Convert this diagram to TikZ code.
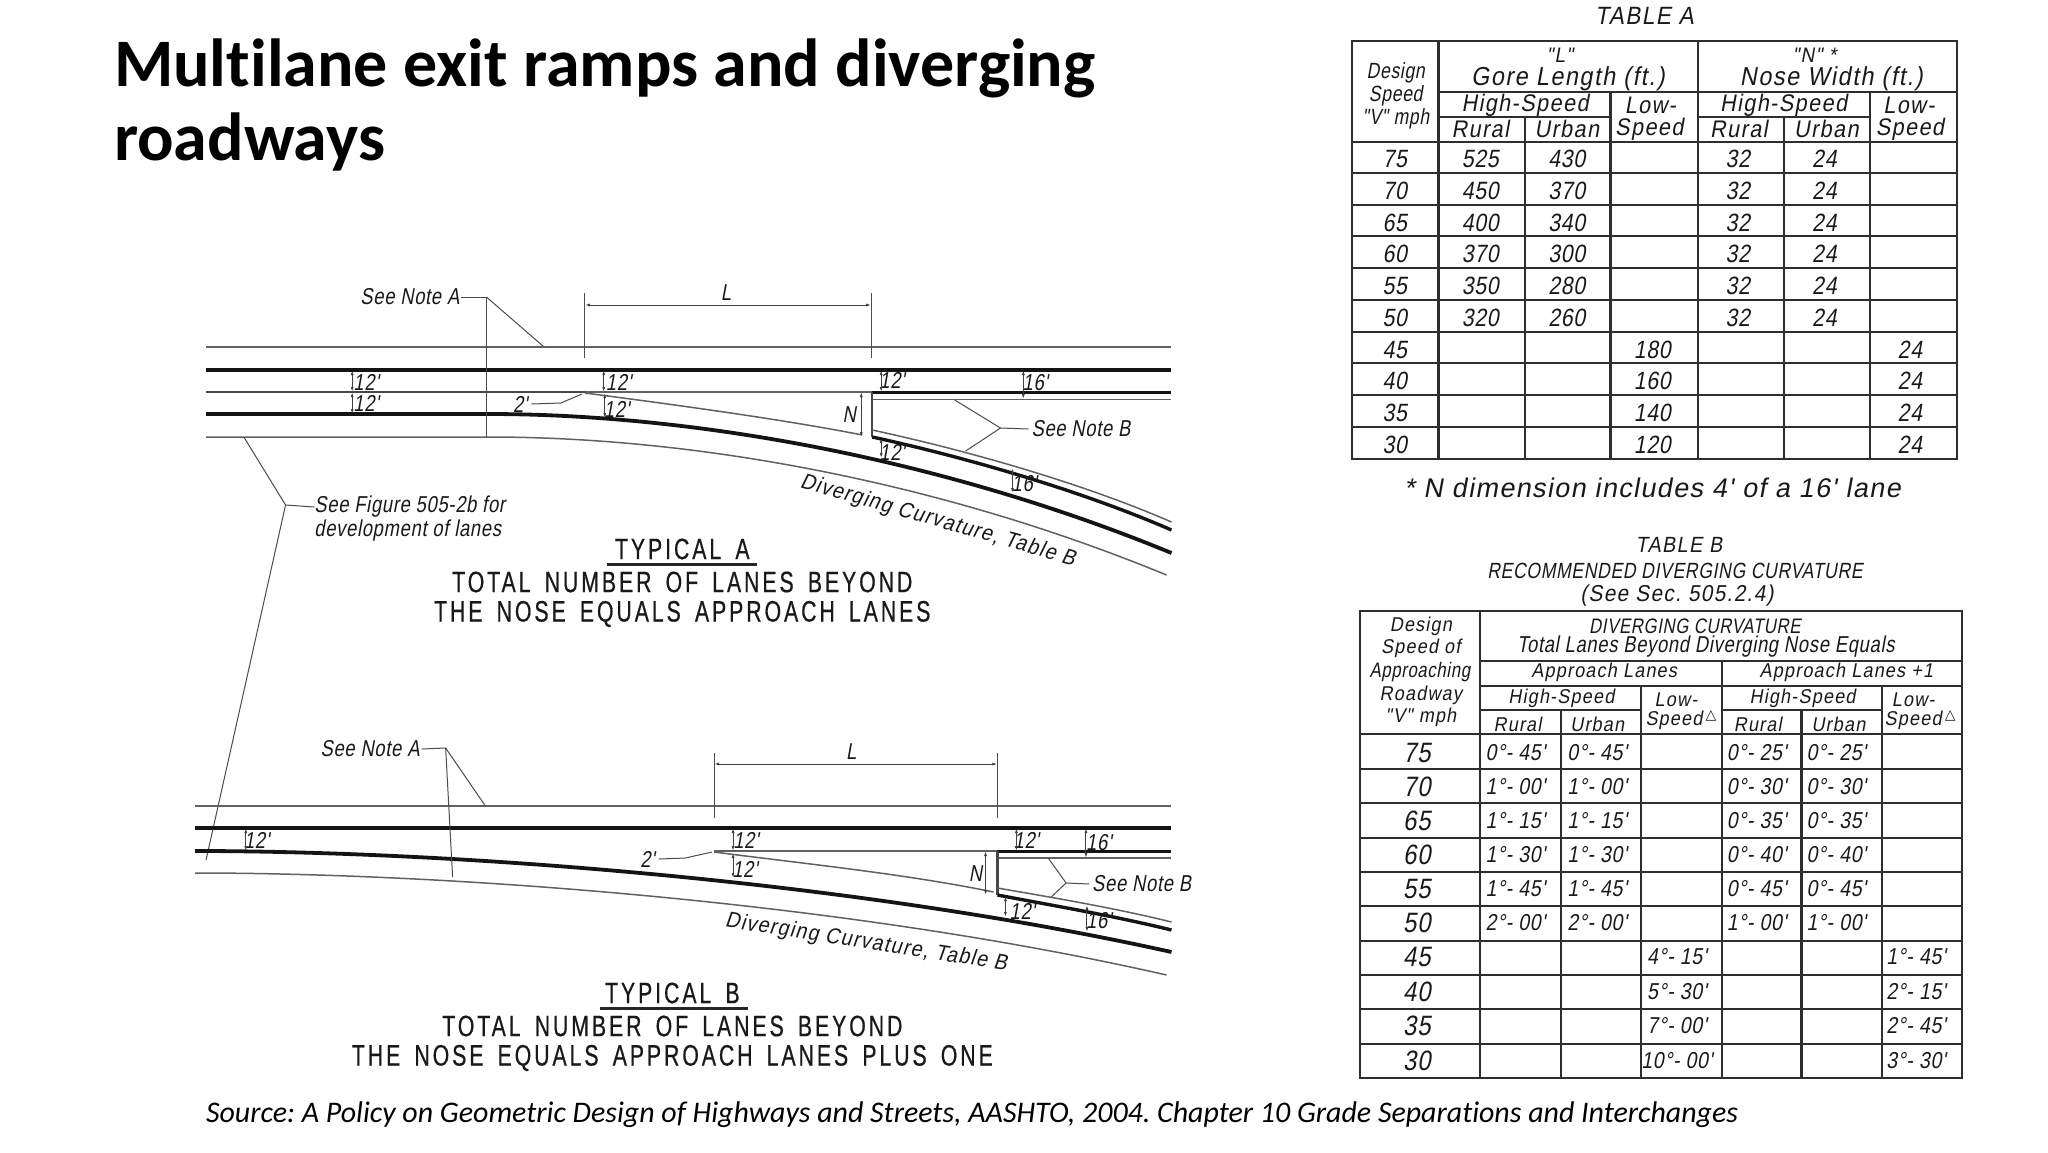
\documentclass[tikz,border=0pt]{standalone}
\usepackage{fontspec}
\usetikzlibrary{arrows.meta}
\setmainfont[Ligatures=NoCommon]{Carlito}
\newfontfamily\cadfont[FakeSlant=0.18,FakeStretch=0.8,LetterSpace=3]{Liberation Sans}
\newfontfamily\cadmid[FakeSlant=0.18,FakeStretch=0.85,LetterSpace=3]{Liberation Sans}
\newfontfamily\cadwide[FakeSlant=0.18,FakeStretch=0.9,LetterSpace=6]{Liberation Sans}
\newfontfamily\cadxwide[FakeSlant=0.18,FakeStretch=1.0,LetterSpace=5]{Liberation Sans}
\newfontfamily\capsfont[FakeStretch=0.72,LetterSpace=10,WordSpace=1.6,FakeBold=0.5]{Liberation Sans}
\newfontfamily\symfont{DejaVu Sans}
\newcommand\cadsz[1]{\fontsize{#1}{#1}\selectfont\cadfont}
\newcommand\midsz[1]{\fontsize{#1}{#1}\selectfont\cadmid}
\newcommand\widesz[1]{\fontsize{#1}{#1}\selectfont\cadwide}
\newcommand\capsz[1]{\fontsize{#1}{#1}\selectfont\capsfont}
\newcommand\tri{{\symfont\bfseries\fontsize{14}{14}\selectfont\raisebox{6pt}{△}}}
\tikzset{
  x=1pt,y=-1pt,
  every node/.style={inner sep=0pt,outer sep=0pt,text=black!90},
  thinroad/.style={line width=1.5pt,draw=black!62},
  thickroad/.style={line width=3.8pt,draw=black!92},
  midroad/.style={line width=2pt,draw=black!72},
  leader/.style={line width=1pt,draw=black!70},
  dimen/.style={line width=1pt,draw=black!75,{Latex[length=5pt,width=3pt]}-{Latex[length=5pt,width=3pt]}},
  grid/.style={line width=2.2pt,draw=black!82,line cap=rect},
  lab/.style={font=\cadsz{23}},
  divlab/.style={font=\widesz{22}},
  lanelab/.style={font=\cadsz{23}},
  cellA/.style={font=\midsz{25}},
  headA/.style={font=\widesz{24}},
  speedB/.style={font=\midsz{28}},
  cellB/.style={font=\midsz{23}},
  headB/.style={font=\widesz{20}},
  titleB/.style={font=\cadsz{22}},
  capslab/.style={font=\capsz{29.5}},
}
\newcommand\ifcell[4]{\if\relax\detokenize{#4}\relax\else\node[#1] (#2) at #3 {#4};\fi}
\newcommand\rowA[8]{%
  \node[cellA] (As#1) at (1395,#1) {#2};
  \ifcell{cellA}{Aa#1}{(1481,#1)}{#3}\ifcell{cellA}{Ab#1}{(1568,#1)}{#4}\ifcell{cellA}{Ac#1}{(1654,#1)}{#5}%
  \ifcell{cellA}{Ad#1}{(1740,#1)}{#6}\ifcell{cellA}{Ae#1}{(1827,#1)}{#7}\ifcell{cellA}{Af#1}{(1913,#1)}{#8}}
\newcommand\rowB[8]{%
  \node[speedB] (Bs#1) at (1417,#1) {#2};
  \ifcell{cellB}{Ba#1}{(1516,#1)}{#3}\ifcell{cellB}{Bb#1}{(1598,#1)}{#4}\ifcell{cellB}{Bc#1}{(1678,#1)}{#5}%
  \ifcell{cellB}{Bd#1}{(1758,#1)}{#6}\ifcell{cellB}{Be#1}{(1838,#1)}{#7}\ifcell{cellB}{Bf#1}{(1918,#1)}{#8}}
\begin{document}
\frenchspacing
\begin{tikzpicture}
\useasboundingbox[fill=white] (0,0) rectangle (2048,1152);
% titles
\node[anchor=base west,font=\fontsize{68}{68}\selectfont\bfseries,text=black] (title1) at (114,86) {Multilane exit ramps and diverging};
\node[anchor=base west,font=\fontsize{68}{68}\selectfont\bfseries,text=black] (title2) at (114,160) {roadways};
\node[anchor=base west,font=\fontsize{29.93}{30}\selectfont\itshape,text=black] (source) at (206,1122) {Source: A Policy on Geometric Design of Highways and Streets, AASHTO, 2004. Chapter 10 Grade Separations and Interchanges};

\begin{scope}[x=0.9943pt,xshift=1.2pt]
% ---------- TYPICAL A ----------
\draw[thinroad] (206,347) -- (1177,347);
\draw[thickroad] (206,370) -- (1177,370);
\draw[midroad] (206,392) -- (587,392);
\draw[thinroad] (587,392) -- (876,392);
\draw[thickroad,line width=3pt] (876,392) -- (1177,392);
\draw[thinroad] (876,399.5) -- (1177,399.5);
\draw[thickroad] (206,414) -- (490,414) .. controls (700,414) and (950,460) .. (1177,553);
\draw[thinroad] (206,437) -- (490,437) .. controls (700,437) and (945,482) .. (1172,575);
\draw[thinroad] (587,393) .. controls (680,405) and (790,420) .. (866,435);
\draw[midroad,line width=2.4pt] (876,392) -- (876,437);
\draw[thickroad,line width=3.4pt] (876,437) .. controls (960,455) and (1080,488) .. (1177,530);
\draw[thinroad] (876,430) .. controls (960,448) and (1080,480) .. (1177,522);
% L dimension
\coordinate (aL1) at (587,293); \coordinate (aL1b) at (587,358);
\coordinate (aL2) at (875,293); \coordinate (aL2b) at (875,358);
\draw[leader] (aL1) -- (aL1b); \draw[leader] (aL2) -- (aL2b);
\draw[dimen] (aL1 |- 0,305) -- (aL2 |- 0,305);
\node[lab] (aLlab) at (729,293) {L};
% note A
\node[lab] (aNoteA) at (411,297) {See Note A};
\coordinate (aNA) at (488,297);
\draw[leader] (aNoteA.east) ++(2,0) -- (aNA) -- (488,437);
\draw[leader] (aNA) -- (546,347);
% lane labels
\foreach \nm/\lx/\ly/\t/\ax/\ya/\yb in {
 a1/367/382/12'/353/370/392, a2/367/403/12'/353/392/414, a3/621/382/12'/606/370/392, a4/619/409/12'/607/393/418,
 a5/896/380/12'/885/370/392, a6/1040/383/16'/1028/370/399, a7/896/452/12'/885/438/458, a8/1029/484/16'/1017/468/493}{
  \node[lanelab] (\nm) at (\lx,\ly) {\t};
  \draw[dimen] (\ax,\ya) -- (\ax,\yb);
}
\node[lanelab] (a2ft) at (522,404) {2'};
\draw[leader] (a2ft.east) ++(4,0) -- (563,403) -- (584,394);
\node[lanelab] (aN) at (853,415) {N};
\draw[dimen] (865,392) -- (865,437);
\coordinate (aNB) at (1005,428);
\node[lab] (aNoteB) at (1086,429) {See Note B};
\draw[leader] (aNoteB.west) ++(-3,0) -- (aNB) -- (959,400);
\draw[leader] (aNB) -- (970,451);
% figure leader
\coordinate (aFig) at (286,505);
\draw[leader] (244,437) -- (aFig) -- (206,860);
\node[lab,anchor=west] (aFig1) at (315,507) {See Figure 505-2b for};
\node[lab,anchor=west] (aFig2) at (315,531) {development of lanes};
\draw[leader] (aFig) -- (aFig1.west);
\node[divlab,rotate=-16] (aDiv) at (942,521) {Diverging Curvature, Table B};
\node[capslab] (aTyp) at (685,549) {TYPICAL A};
\draw[line width=3pt,draw=black!85] (609,564) -- (760,564);
\node[capslab] (aT1) at (685,582) {TOTAL NUMBER OF LANES BEYOND};
\node[capslab] (aT2) at (685,614) {THE NOSE EQUALS APPROACH LANES};

% ---------- TYPICAL B ----------
\draw[thinroad] (195,806) -- (1177,806);
\draw[thickroad] (195,828) -- (1177,828);
\draw[thickroad] (195,851) .. controls (450,851) and (850,880) .. (1177,952);
\draw[thinroad] (195,873) .. controls (450,873) and (850,902) .. (1172,975);
\draw[thinroad] (717,851) -- (1002,851);
\draw[thickroad,line width=3pt] (1002,851) -- (1177,851);
\draw[thinroad] (1002,858) -- (1177,858);
\draw[thinroad] (717,852) .. controls (810,864) and (910,874) .. (998,892);
\draw[midroad,line width=2.4pt] (1002,851) -- (1002,895);
\draw[thickroad,line width=3.4pt] (1002,895) .. controls (1060,906) and (1120,916) .. (1177,930);
\draw[thinroad] (1002,888) .. controls (1060,898) and (1120,908) .. (1177,922);
% L
\coordinate (bL1) at (717,753); \coordinate (bL1b) at (717,818);
\coordinate (bL2) at (1002,753); \coordinate (bL2b) at (1002,818);
\draw[leader] (bL1) -- (bL1b); \draw[leader] (bL2) -- (bL2b);
\draw[dimen] (bL1 |- 0,764) -- (bL2 |- 0,764);
\node[lab] (bLlab) at (855,752) {L};
% note A
\node[lab] (bNoteA) at (371,749) {See Note A};
\coordinate (bNA) at (447,748);
\draw[leader] (bNoteA.east) ++(2,0) -- (bNA) -- (454,877);
\draw[leader] (bNA) -- (487,806);
% lane labels
\foreach \nm/\lx/\ly/\t/\ax/\ya/\yb in {
 b1/257/840/12'/246/828/851, b3/749/840/12'/736/828/851, b4/748/869/12'/736/853/878,
 b5/1031/840/12'/1021/828/851, b6/1104/843/16'/1091/828/858, b7/1027/911/12'/1010/896/917, b8/1104/921/16'/1092/905/932}{
  \node[lanelab] (\nm) at (\lx,\ly) {\t};
  \draw[dimen] (\ax,\ya) -- (\ax,\yb);
}
\node[lanelab] (b2ft) at (650,859) {2'};
\draw[leader] (b2ft.east) ++(4,0) -- (688,858) -- (715,852);
\node[lanelab] (bN) at (980,874) {N};
\draw[dimen] (990,851) -- (990,895);
\coordinate (bNB) at (1071,883);
\node[lab] (bNoteB) at (1147,884) {See Note B};
\draw[leader] (bNoteB.west) ++(-3,0) -- (bNB) -- (1053,858);
\draw[leader] (bNB) -- (1056,897);
\node[divlab,rotate=-8.8] (bDiv) at (870,943) {Diverging Curvature, Table B};
\node[capslab] (bTyp) at (675,993) {TYPICAL B};
\draw[line width=3pt,draw=black!85] (602,1008) -- (751,1008);
\node[capslab] (bT1) at (675,1026) {TOTAL NUMBER OF LANES BEYOND};
\node[capslab] (bT2) at (675,1058) {THE NOSE EQUALS APPROACH LANES PLUS ONE};
\end{scope}

% ---------- TABLE A ----------
\begin{scope}[x=0.9945pt,xshift=7.4pt]
\node[headA,font=\widesz{25}] (tA) at (1646,16) {TABLE A};
\draw[grid] (1352,41) rectangle (1960,459);
\draw[grid] (1439,92) -- (1960,92);
\draw[grid] (1439,117) -- (1612,117) (1700,117) -- (1873,117);
\draw[grid] (1352,142) -- (1960,142);
\foreach \yy in {173,205,236,268,300,332,363,395,427} {\draw[grid] (1352,\yy) -- (1960,\yy);}
\draw[grid] (1439,41) -- (1439,459) (1700,41) -- (1700,459);
\draw[grid] (1526,117) -- (1526,459) (1786,117) -- (1786,459);
\draw[grid] (1612,92) -- (1612,459) (1873,92) -- (1873,459);
\node[headA,font=\cadsz{22}] (Ah1) at (1396,73) {Design};
\node[headA,font=\cadsz{22}] (Ah2) at (1396,96) {Speed};
\node[headA,font=\cadsz{22}] (Ah3) at (1396,119) {"V" mph};
\node[headA,font=\widesz{21}] (Ah4) at (1561,55) {"L"};
\node[headA,font=\widesz{26}] (Ah5) at (1569,79) {Gore Length (ft.)};
\node[headA,font=\widesz{21}] (Ah6) at (1817,55) {"N" *};
\node[headA,font=\widesz{26}] (Ah7) at (1834,79) {Nose Width (ft.)};
\node[headA] (Ah8) at (1526,105) {High-Speed};
\node[headA] (Ah9) at (1786,105) {High-Speed};
\node[headA] (Ah10) at (1652,105) {Low-};
\node[headA] (Ah11) at (1651,129) {Speed};
\node[headA] (Ah12) at (1912,105) {Low-};
\node[headA] (Ah13) at (1913,129) {Speed};
\node[headA] (Ah14) at (1481,129) {Rural};
\node[headA] (Ah15) at (1568,129) {Urban};
\node[headA] (Ah16) at (1741,129) {Rural};
\node[headA] (Ah17) at (1829,129) {Urban};
\rowA{159}{75}{525}{430}{}{32}{24}{}
\rowA{191}{70}{450}{370}{}{32}{24}{}
\rowA{223}{65}{400}{340}{}{32}{24}{}
\rowA{254}{60}{370}{300}{}{32}{24}{}
\rowA{286}{55}{350}{280}{}{32}{24}{}
\rowA{318}{50}{320}{260}{}{32}{24}{}
\rowA{350}{45}{}{}{180}{}{}{24}
\rowA{381}{40}{}{}{160}{}{}{24}
\rowA{413}{35}{}{}{140}{}{}{24}
\rowA{445}{30}{}{}{120}{}{}{24}
\node[font=\fontsize{27}{27}\selectfont\cadxwide] (Afoot) at (1654,488) {* N dimension includes 4' of a 16' lane};
\end{scope}

% ---------- TABLE B ----------
\begin{scope}[x=0.9967pt,xshift=4.5pt]
\node[titleB,font=\widesz{22}] (tB1) at (1680,545) {TABLE B};
\node[titleB] (tB2) at (1676,571) {RECOMMENDED DIVERGING CURVATURE};
\node[titleB,font=\widesz{23}] (tB3) at (1678,596) {(See Sec. 505.2.4)};
\draw[grid] (1360,611) rectangle (1964,1078);
\draw[grid] (1480,661) -- (1964,661);
\draw[grid] (1480,686) -- (1964,686);
\draw[grid] (1480,710) -- (1642,710) (1723,710) -- (1884,710);
\draw[grid] (1360,734) -- (1964,734);
\foreach \yy in {769,803,838,872,906,941,975,1009,1044} {\draw[grid] (1360,\yy) -- (1964,\yy);}
\draw[grid] (1480,611) -- (1480,1078);
\draw[grid] (1723,661) -- (1723,1078);
\draw[grid] (1642,686) -- (1642,1078) (1884,686) -- (1884,1078);
\draw[grid] (1562,710) -- (1562,1078) (1803,710) -- (1803,1078);
\node[headB] (Bh1) at (1421,626) {Design};
\node[headB] (Bh2) at (1421,648) {Speed of};
\node[headB,font=\cadsz{21}] (Bh3) at (1420,672) {Approaching};
\node[headB] (Bh4) at (1421,695) {Roadway};
\node[headB] (Bh5) at (1421,717) {"V" mph};
\node[headB,font=\cadsz{21}] (Bh6) at (1696,626) {DIVERGING CURVATURE};
\node[headB,font=\cadsz{23}] (Bh7) at (1707,647) {Total Lanes Beyond Diverging Nose Equals};
\node[headB] (Bh8) at (1605,672) {Approach Lanes};
\node[headB] (Bh9) at (1848,672) {Approach Lanes +1};
\node[headB] (Bh10) at (1562,698) {High-Speed};
\node[headB] (Bh11) at (1804,698) {High-Speed};
\node[headB] (Bh12) at (1677,700) {Low-};
\node[headB] (Bh13) at (1682,720) {Speed\,\tri};
\node[headB] (Bh14) at (1915,700) {Low-};
\node[headB] (Bh15) at (1922,720) {Speed\,\tri};
\node[headB] (Bh16) at (1518,724) {Rural};
\node[headB] (Bh17) at (1598,724) {Urban};
\node[headB] (Bh18) at (1759,724) {Rural};
\node[headB] (Bh19) at (1840,724) {Urban};
\rowB{753}{75}{0°- 45'}{0°- 45'}{}{0°- 25'}{0°- 25'}{}
\rowB{787}{70}{1°- 00'}{1°- 00'}{}{0°- 30'}{0°- 30'}{}
\rowB{821}{65}{1°- 15'}{1°- 15'}{}{0°- 35'}{0°- 35'}{}
\rowB{855}{60}{1°- 30'}{1°- 30'}{}{0°- 40'}{0°- 40'}{}
\rowB{889}{55}{1°- 45'}{1°- 45'}{}{0°- 45'}{0°- 45'}{}
\rowB{923}{50}{2°- 00'}{2°- 00'}{}{1°- 00'}{1°- 00'}{}
\rowB{957}{45}{}{}{4°- 15'}{}{}{1°- 45'}
\rowB{992}{40}{}{}{5°- 30'}{}{}{2°- 15'}
\rowB{1026}{35}{}{}{7°- 00'}{}{}{2°- 45'}
\rowB{1061}{30}{}{}{10°- 00'}{}{}{3°- 30'}
\end{scope}
\end{tikzpicture}
\end{document}
